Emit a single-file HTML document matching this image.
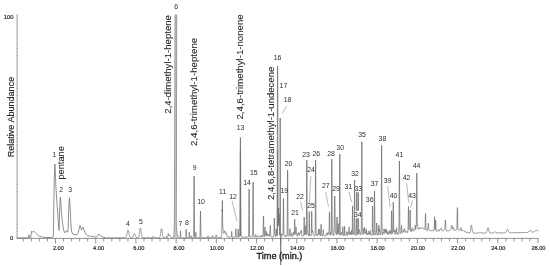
<!DOCTYPE html>
<html><head><meta charset="utf-8"><title>Chromatogram</title>
<style>
html,body{margin:0;padding:0;background:#fff;}
body{width:550px;height:266px;overflow:hidden;}
svg{display:block;}
text{font-family:"Liberation Sans",Arial,sans-serif;}
.n{font-size:6.90px;fill:#2c2c2c;text-anchor:middle;}
.c{font-size:9.68px;fill:#2a2a2a;stroke:#2a2a2a;stroke-width:0.1px;}
.t{font-size:6.2px;fill:#222;text-anchor:end;stroke:#222;stroke-width:0.18px;}
</style></head><body>
<svg width="550" height="266" viewBox="0 0 550 266">
<rect width="550" height="266" fill="#fff"/>
<g stroke="#777" stroke-width="0.8" fill="none">
<path d="M16.6 238.4 H538.5"/>
<path d="M17.1 14.7 V238.4" stroke="#b4b4b4" stroke-width="0.9"/>
<path d="M17.1 14.7 V238.4" stroke="#7a7a7a" stroke-width="0.9" stroke-dasharray="0.9 1.33"/>
<path d="M23.34 238.4 v3.0 M31.38 238.4 v3.0 M39.42 238.4 v3.0 M47.47 238.4 v3.0 M55.51 238.4 v5.0 M63.55 238.4 v3.0 M71.59 238.4 v3.0 M79.63 238.4 v3.0 M87.67 238.4 v3.0 M95.72 238.4 v5.0 M103.76 238.4 v3.0 M111.80 238.4 v3.0 M119.84 238.4 v3.0 M127.88 238.4 v3.0 M135.92 238.4 v5.0 M143.97 238.4 v3.0 M152.01 238.4 v3.0 M160.05 238.4 v3.0 M168.09 238.4 v3.0 M176.13 238.4 v5.0 M184.17 238.4 v3.0 M192.22 238.4 v3.0 M200.26 238.4 v3.0 M208.30 238.4 v3.0 M216.34 238.4 v5.0 M224.38 238.4 v3.0 M232.42 238.4 v3.0 M240.46 238.4 v3.0 M248.51 238.4 v3.0 M256.55 238.4 v5.0 M264.59 238.4 v3.0 M272.63 238.4 v3.0 M280.67 238.4 v3.0 M288.71 238.4 v3.0 M296.76 238.4 v5.0 M304.80 238.4 v3.0 M312.84 238.4 v3.0 M320.88 238.4 v3.0 M328.92 238.4 v3.0 M336.96 238.4 v5.0 M345.01 238.4 v3.0 M353.05 238.4 v3.0 M361.09 238.4 v3.0 M369.13 238.4 v3.0 M377.17 238.4 v5.0 M385.21 238.4 v3.0 M393.26 238.4 v3.0 M401.30 238.4 v3.0 M409.34 238.4 v3.0 M417.38 238.4 v5.0 M425.42 238.4 v3.0 M433.46 238.4 v3.0 M441.50 238.4 v3.0 M449.55 238.4 v3.0 M457.59 238.4 v5.0 M465.63 238.4 v3.0 M473.67 238.4 v3.0 M481.71 238.4 v3.0 M489.75 238.4 v3.0 M497.80 238.4 v5.0 M505.84 238.4 v3.0 M513.88 238.4 v3.0 M521.92 238.4 v3.0 M529.96 238.4 v3.0 M538.00 238.4 v5.0"/>
</g>
<g fill="none" stroke="#6c6c6c" stroke-width="0.75" stroke-linejoin="round">
<path d="M17.00 237.90 L28.30 237.90 L28.90 234.80 L29.50 237.30 L30.60 237.50 L31.20 234.00 L31.70 231.10 L32.20 231.60 L32.70 232.30 L33.50 231.60 L34.20 231.30 L35.20 232.30 L36.80 234.30 L38.00 235.40 L39.30 236.10 L41.00 236.80 L43.40 237.40 L52.50 237.60 L53.20 237.00 L53.50 228.00 L53.80 205.00 L54.30 178.00 L54.90 164.10 L55.30 172.00 L55.90 187.00 L56.90 203.00 L57.80 214.00 L58.50 224.00 L59.00 230.30 L59.30 224.00 L59.60 212.00 L60.00 202.00 L60.40 197.10 L60.80 202.00 L61.30 211.00 L61.90 217.00 L62.60 223.00 L63.40 229.00 L64.70 232.80 L65.80 232.00 L66.70 230.80 L67.70 232.30 L68.20 228.00 L68.60 214.00 L69.00 203.00 L69.45 197.80 L69.90 203.00 L70.50 214.00 L71.00 225.00 L71.60 231.50 L72.80 234.20 L75.00 234.60 L77.00 234.60 L78.30 232.50 L79.20 228.00 L80.00 225.40 L80.80 228.00 L81.60 230.20 L82.30 228.30 L83.00 227.00 L83.80 229.00 L85.00 232.50 L86.20 234.50 L87.50 235.60 L89.00 236.30 L90.00 235.50 L91.00 236.50 L92.20 236.60 L93.00 236.00 L94.00 236.90 L96.50 237.20 L98.00 235.60 L99.00 234.00 L100.00 235.20 L101.20 236.40 L103.00 237.20 L105.00 237.60 L105.00 237.86 L105.60 237.85 L106.20 237.85 L106.80 237.85 L107.40 237.85 L108.00 237.85 L108.60 237.85 L109.20 237.85 L109.80 237.85 L110.40 237.75 L110.85 237.60 L111.45 237.81 L112.05 237.85 L112.15 237.85 L112.75 237.85 L113.35 237.85 L113.95 237.85 L114.55 237.85 L115.15 237.85 L115.75 237.85 L116.35 237.85 L116.95 237.85 L117.55 237.85 L118.15 237.85 L118.75 237.85 L119.35 237.85 L119.95 237.85 L120.55 237.85 L121.15 237.84 L121.75 237.81 L122.35 237.61 L122.60 237.56 L123.20 237.73 L123.80 237.84 L124.15 237.84 L124.75 237.83 L125.35 237.74 L125.80 237.46 L126.00 237.19 L126.15 236.92 L126.30 236.56 L126.40 236.27 L126.50 235.93 L126.60 235.56 L126.70 235.14 L126.80 234.69 L126.90 234.20 L126.95 233.94 L127.00 233.68 L127.05 233.42 L127.10 233.15 L127.15 232.88 L127.20 232.60 L127.25 232.33 L127.30 232.07 L127.35 231.81 L127.40 231.56 L127.50 231.09 L127.60 230.69 L127.70 230.36 L127.85 230.07 L127.95 230.00 L128.20 230.27 L128.30 230.53 L128.40 230.86 L128.50 231.25 L128.60 231.70 L128.70 232.18 L128.80 232.68 L128.85 232.94 L128.90 233.20 L128.95 233.45 L129.00 233.71 L129.05 233.96 L129.15 234.46 L129.25 234.92 L129.35 235.36 L129.45 235.75 L129.55 236.10 L129.65 236.41 L129.75 236.68 L129.90 237.02 L130.05 237.27 L130.30 237.55 L130.90 237.80 L131.30 237.82 L131.95 237.73 L132.40 237.48 L132.65 237.20 L132.85 236.88 L133.00 236.57 L133.15 236.22 L133.25 235.97 L133.35 235.69 L133.45 235.41 L133.55 235.13 L133.65 234.84 L133.75 234.57 L133.85 234.32 L134.00 234.00 L134.20 233.70 L134.40 233.60 L134.75 233.91 L134.90 234.21 L135.05 234.57 L135.15 234.84 L135.25 235.12 L135.35 235.41 L135.45 235.69 L135.55 235.96 L135.65 236.22 L135.80 236.57 L135.95 236.88 L136.15 237.20 L136.40 237.48 L136.90 237.73 L137.00 237.74 L137.40 237.68 L137.85 237.74 L138.35 237.47 L138.55 237.16 L138.70 236.81 L138.80 236.50 L138.90 236.14 L139.00 235.71 L139.10 235.21 L139.15 234.93 L139.20 234.64 L139.25 234.34 L139.30 234.01 L139.35 233.68 L139.40 233.33 L139.45 232.98 L139.50 232.61 L139.55 232.24 L139.60 231.87 L139.65 231.50 L139.70 231.13 L139.75 230.77 L139.80 230.41 L139.85 230.07 L139.90 229.75 L139.95 229.44 L140.00 229.16 L140.05 228.90 L140.15 228.47 L140.25 228.17 L140.40 228.00 L140.60 228.30 L140.70 228.67 L140.80 229.16 L140.85 229.44 L140.90 229.74 L140.95 230.07 L141.00 230.41 L141.05 230.76 L141.10 231.13 L141.15 231.50 L141.20 231.87 L141.25 232.24 L141.30 232.61 L141.35 232.98 L141.40 233.33 L141.45 233.68 L141.50 234.01 L141.55 234.33 L141.60 234.64 L141.65 234.93 L141.70 235.21 L141.75 235.47 L141.85 235.93 L141.95 236.33 L142.05 236.66 L142.15 236.93 L142.30 237.25 L142.50 237.52 L143.00 237.74 L143.50 237.68 L144.10 237.81 L144.75 237.83 L145.40 237.83 L146.05 237.83 L146.65 237.83 L147.30 237.83 L147.95 237.58 L148.15 237.52 L148.70 237.67 L149.15 237.63 L149.80 237.75 L150.05 237.78 L150.65 237.70 L150.85 237.69 L151.45 237.78 L152.10 237.83 L152.15 237.83 L152.75 237.66 L152.90 237.40 L153.00 237.12 L153.10 236.78 L153.20 236.44 L153.30 236.19 L153.40 236.10 L153.60 236.44 L153.70 236.78 L153.80 237.12 L153.90 237.40 L154.05 237.66 L154.65 237.83 L154.80 237.83 L155.40 237.82 L156.00 237.74 L156.45 237.61 L157.05 237.79 L157.70 237.82 L157.80 237.82 L158.40 237.82 L159.05 237.80 L159.65 237.55 L159.85 237.26 L160.00 236.90 L160.10 236.59 L160.20 236.20 L160.30 235.72 L160.35 235.46 L160.40 235.17 L160.45 234.86 L160.50 234.53 L160.55 234.19 L160.60 233.83 L160.65 233.46 L160.70 233.08 L160.75 232.68 L160.80 232.29 L160.85 231.90 L160.90 231.50 L160.95 231.12 L161.00 230.75 L161.05 230.40 L161.10 230.07 L161.15 229.77 L161.20 229.50 L161.30 229.06 L161.40 228.79 L161.50 228.70 L161.70 229.06 L161.80 229.50 L161.85 229.77 L161.90 230.07 L161.95 230.40 L162.00 230.75 L162.05 231.12 L162.10 231.50 L162.15 231.89 L162.20 232.29 L162.25 232.68 L162.30 233.07 L162.35 233.46 L162.40 233.83 L162.45 234.19 L162.50 234.53 L162.55 234.86 L162.60 235.16 L162.65 235.45 L162.70 235.71 L162.80 236.18 L162.90 236.56 L163.00 236.86 L163.15 237.18 L163.40 237.46 L164.00 237.71 L164.65 237.82 L165.05 237.82 L165.70 237.73 L165.95 237.39 L166.10 237.02 L166.20 236.76 L166.40 236.50 L166.60 236.76 L166.70 237.02 L166.80 237.28 L166.95 237.57 L167.20 237.75 L167.50 237.49 L167.60 237.23 L167.70 236.83 L167.75 236.57 L167.80 236.28 L167.85 235.95 L167.90 235.60 L167.95 235.23 L168.00 234.86 L168.05 234.50 L168.10 234.17 L168.15 233.89 L168.25 233.50 L168.35 233.42 L168.50 233.84 L168.60 234.35 L168.65 234.63 L168.70 234.90 L168.75 235.16 L168.85 235.59 L168.95 235.86 L169.10 235.97 L169.35 235.66 L169.50 235.39 L169.75 235.15 L170.05 235.43 L170.20 235.71 L170.35 236.02 L170.50 236.34 L170.65 236.66 L170.80 236.95 L171.00 237.26 L171.25 237.53 L171.85 237.78 L172.00 237.79 L172.45 237.76 L173.05 237.81 L173.40 237.82 L173.55 237.82"/>
<path d="M173.55 237.82 L174.0 234 L174.4 222 L174.65 150 L175.0 16.5 L175.5 14.8 L176.3 14.8 L176.7 16.5 L176.5 150 L176.3 222 L176.6 229 L177.2 233.5 L178.20 237.77" stroke="#828282" fill="#c6c6c6"/>
<path d="M240.4 150 V236" stroke="#505050" stroke-width="0.8"/>
<path d="M277.6 150 V235.5" stroke="#5a5a5a" stroke-width="0.7"/>
<path d="M178.20 237.77 L178.75 237.54 L179.40 237.79 L179.70 237.81 L180.05 237.50 L180.10 237.22 L180.15 236.75 L180.20 236.06 L180.25 235.14 L180.30 234.03 L180.35 232.86 L180.40 231.80 L180.45 231.07 L180.50 230.80 L180.55 231.07 L180.60 231.80 L180.65 232.86 L180.70 234.03 L180.75 235.14 L180.80 236.06 L180.85 236.75 L180.90 237.22 L180.95 237.50 L181.10 237.78 L181.40 237.81 L182.05 237.81 L182.65 237.81 L183.30 237.81 L183.95 237.81 L184.60 237.81 L185.25 237.81 L185.75 237.43 L185.80 237.08 L185.85 236.51 L185.90 235.66 L185.95 234.53 L186.00 233.16 L186.05 231.73 L186.10 230.43 L186.15 229.53 L186.20 229.20 L186.25 229.53 L186.30 230.43 L186.35 231.73 L186.40 233.16 L186.45 234.53 L186.50 235.66 L186.55 236.51 L186.60 237.08 L186.65 237.43 L186.75 237.73 L187.10 237.81 L187.70 237.81 L188.35 237.81 L188.90 237.34 L188.95 236.97 L189.00 236.43 L189.05 235.71 L189.10 234.84 L189.15 233.92 L189.20 233.09 L189.25 232.51 L189.30 232.30 L189.40 233.09 L189.45 233.92 L189.50 234.84 L189.55 235.71 L189.60 236.43 L189.65 236.97 L189.70 237.34 L189.80 237.69 L190.20 237.81 L190.75 237.50 L190.85 237.04 L190.90 236.72 L190.95 236.39 L191.00 236.09 L191.10 235.80 L191.20 236.09 L191.25 236.39 L191.30 236.72 L191.35 237.04 L191.40 237.31 L191.50 237.64 L191.95 237.80 L192.60 237.80 L193.25 237.78 L193.45 237.49 L193.50 237.14 L193.55 236.46 L193.60 235.21 L193.65 233.09 L193.70 229.73 L193.75 224.80 L193.80 218.15 L193.85 209.92 L193.90 200.67 L193.95 191.40 L194.00 183.39 L194.05 177.94 L194.10 176.00 L194.15 177.94 L194.20 183.40 L194.25 191.41 L194.30 200.68 L194.35 209.94 L194.40 218.17 L194.45 224.82 L194.50 229.75 L194.55 233.11 L194.60 235.23 L194.65 236.48 L194.70 237.16 L194.75 237.51 L194.90 237.78 L195.05 237.80 L195.40 237.34 L195.45 236.97 L195.50 236.43 L195.55 235.71 L195.60 234.83 L195.65 233.91 L195.70 233.09 L195.75 232.51 L195.80 232.30 L195.90 233.09 L195.95 233.91 L196.00 234.83 L196.05 235.70 L196.10 236.43 L196.15 236.97 L196.20 237.34 L196.30 237.69 L196.70 237.80 L197.30 237.80 L197.95 237.80 L198.60 237.73 L199.00 237.64 L199.65 237.79 L199.90 237.53 L199.95 237.23 L200.00 236.70 L200.05 235.77 L200.10 234.32 L200.15 232.18 L200.20 229.29 L200.25 225.72 L200.30 221.71 L200.35 217.69 L200.40 214.21 L200.45 211.84 L200.50 211.00 L200.55 211.84 L200.60 214.20 L200.65 217.68 L200.70 221.70 L200.75 225.71 L200.80 229.28 L200.85 232.16 L200.90 234.30 L200.95 235.75 L201.00 236.67 L201.05 237.21 L201.10 237.50 L201.30 237.76 L201.40 237.76 L202.05 237.75 L202.65 237.73 L203.30 237.68 L203.85 237.62 L204.50 237.67 L204.75 237.67 L205.40 237.66 L206.05 237.64 L206.65 237.62 L207.30 237.60 L207.65 237.33 L207.75 236.91 L207.80 236.63 L207.85 236.33 L207.90 236.06 L208.00 235.80 L208.10 236.05 L208.15 236.32 L208.20 236.62 L208.25 236.90 L208.35 237.31 L208.60 237.56 L208.70 237.57 L209.30 237.55 L209.95 237.53 L210.60 237.48 L211.15 237.42 L211.80 237.47 L211.90 237.47 L212.25 237.18 L212.35 236.72 L212.40 236.41 L212.45 236.08 L212.50 235.78 L212.60 235.50 L212.70 235.78 L212.75 236.07 L212.80 236.40 L212.85 236.71 L212.90 236.97 L213.00 237.29 L213.30 237.44 L213.95 237.43 L214.60 237.41 L215.20 237.40 L215.85 237.00 L215.90 236.75 L215.95 236.40 L216.00 235.99 L216.05 235.56 L216.10 235.17 L216.15 234.90 L216.20 234.80 L216.30 235.17 L216.35 235.56 L216.40 235.99 L216.45 236.40 L216.50 236.74 L216.55 236.99 L216.65 237.27 L216.95 237.38 L217.55 237.37 L218.20 237.37 L218.85 237.36 L219.45 237.36 L220.10 237.35 L220.75 237.34 L221.40 237.28 L221.55 236.85 L221.60 236.45 L221.65 235.80 L221.70 234.79 L221.75 233.32 L221.80 231.29 L221.85 228.66 L221.90 225.48 L221.95 221.90 L222.00 218.17 L222.05 214.65 L222.10 211.75 L222.15 209.84 L222.20 209.17 L222.25 209.84 L222.30 211.75 L222.35 200.65 L222.40 202.13 L222.45 206.83 L222.50 211.32 L222.55 215.35 L222.60 218.77 L222.65 221.54 L222.70 223.71 L222.75 225.36 L222.80 226.62 L222.85 227.59 L222.90 228.35 L222.95 228.97 L223.00 229.50 L223.05 229.96 L223.10 230.38 L223.15 230.76 L223.20 231.12 L223.25 231.44 L223.30 231.74 L223.35 232.02 L223.40 232.27 L223.50 232.69 L223.60 233.02 L223.75 233.29 L223.80 233.31 L224.05 232.97 L224.15 232.64 L224.25 232.23 L224.35 231.79 L224.45 231.37 L224.55 231.04 L224.70 230.78 L224.75 230.78 L224.95 231.17 L225.05 231.58 L225.15 232.07 L225.20 232.32 L225.30 232.81 L225.40 233.22 L225.50 233.52 L225.65 233.69 L225.90 233.34 L226.05 233.00 L226.25 232.75 L226.45 233.02 L226.55 233.34 L226.65 233.77 L226.75 234.25 L226.80 234.51 L226.85 234.76 L226.95 235.24 L227.05 235.67 L227.15 236.04 L227.25 236.34 L227.40 236.66 L227.65 236.93 L227.95 237.00 L228.60 236.88 L229.25 237.06 L229.65 237.13 L230.10 237.10 L230.75 237.18 L230.95 237.20 L231.30 236.72 L231.35 236.34 L231.40 235.78 L231.45 235.03 L231.50 234.13 L231.55 233.17 L231.60 232.32 L231.65 231.72 L231.70 231.50 L231.80 232.32 L231.85 233.17 L231.90 234.13 L231.95 235.03 L232.00 235.78 L232.05 236.34 L232.10 236.72 L232.20 237.09 L232.60 237.21 L233.25 237.20 L233.85 237.20 L234.50 237.20 L235.15 237.18 L235.35 236.81 L235.40 236.47 L235.45 235.91 L235.50 235.08 L235.55 233.98 L235.60 232.66 L235.65 231.26 L235.70 230.00 L235.75 229.12 L235.80 228.80 L235.85 229.11 L235.90 229.98 L235.95 231.22 L236.00 232.61 L236.05 233.93 L236.10 235.03 L236.15 235.85 L236.20 236.41 L236.25 236.76 L236.35 237.06 L236.90 237.18 L237.55 237.16 L237.75 236.81 L237.80 236.48 L237.85 235.94 L237.90 235.13 L237.95 234.06 L238.00 232.76 L238.05 231.40 L238.10 230.17 L238.15 229.31 L238.20 229.00 L238.25 229.31 L238.30 230.17 L238.35 231.39 L238.40 232.76 L238.45 234.05 L238.50 235.13 L238.55 235.93 L238.60 236.47 L238.65 236.80 L238.75 237.08 L239.00 237.16 L239.50 236.77 L239.55 236.45 L239.60 235.92 L239.65 235.05 L239.70 233.69 L239.75 231.66 L239.80 228.72 L239.85 224.64 L239.90 219.21 L239.95 212.30 L240.00 203.89 L240.05 194.14 L240.10 183.40 L240.15 172.24 L240.20 161.41 L240.25 151.75 L240.30 144.11 L240.35 139.19 L240.40 137.50 L240.45 139.19 L240.50 144.10 L240.55 151.75 L240.60 161.41 L240.65 172.24 L240.70 183.39 L240.75 194.13 L240.80 203.89 L240.85 212.29 L240.90 219.20 L240.95 224.63 L241.00 228.70 L241.05 231.64 L241.10 233.68 L241.15 235.03 L241.20 235.90 L241.25 236.44 L241.30 236.75 L241.40 237.03 L241.75 237.13 L242.35 237.13 L243.00 237.12 L243.65 237.11 L244.25 237.11 L244.90 237.10 L245.55 237.09 L246.20 237.09 L246.85 237.08 L247.45 237.08 L248.10 237.07 L248.50 236.58 L248.55 236.05 L248.60 235.08 L248.65 233.43 L248.70 230.82 L248.75 226.99 L248.80 221.81 L248.85 215.40 L248.90 208.21 L248.95 200.99 L249.00 194.76 L249.05 190.51 L249.10 189.00 L249.15 190.51 L249.20 194.75 L249.25 200.99 L249.30 208.20 L249.35 215.40 L249.40 221.81 L249.45 226.98 L249.50 230.81 L249.55 233.42 L249.60 235.07 L249.65 236.04 L249.70 236.57 L249.75 236.83 L250.05 237.05 L250.65 237.04 L251.30 237.04 L251.95 237.02 L252.45 236.64 L252.50 236.32 L252.55 235.70 L252.60 234.58 L252.65 232.69 L252.70 229.69 L252.75 225.32 L252.80 219.41 L252.85 212.09 L252.90 203.88 L252.95 195.65 L253.00 188.54 L253.05 183.71 L253.10 182.00 L253.15 183.74 L253.20 188.61 L253.25 195.74 L253.30 204.00 L253.35 212.23 L253.40 219.56 L253.45 225.48 L253.50 229.86 L253.55 232.85 L253.60 234.74 L253.65 235.85 L253.70 236.45 L253.75 236.76 L254.05 237.01 L254.65 237.00 L255.30 236.94 L255.45 236.59 L255.50 236.32 L255.55 235.97 L255.60 235.54 L255.65 235.09 L255.70 234.69 L255.75 234.40 L255.80 234.30 L255.90 234.68 L255.95 235.09 L256.00 235.53 L256.05 235.96 L256.10 236.31 L256.15 236.57 L256.25 236.86 L256.55 236.97 L257.15 236.96 L257.60 236.71 L257.75 236.34 L257.85 236.05 L258.00 235.76 L258.05 235.73 L258.25 235.83 L258.45 235.57 L258.55 235.45 L258.70 235.76 L258.80 236.19 L258.90 236.56 L259.05 236.85 L259.35 236.92 L259.95 236.91 L260.55 236.87 L260.75 236.49 L260.85 236.14 L260.95 235.98 L261.10 236.29 L261.25 236.50 L261.40 236.08 L261.45 235.83 L261.50 235.57 L261.60 235.19 L261.65 235.15 L261.75 235.47 L261.80 235.75 L261.85 236.04 L261.90 236.31 L262.00 236.66 L262.10 236.77 L262.30 236.45 L262.40 236.12 L262.55 235.90 L262.70 236.15 L262.80 236.26 L262.95 235.80 L263.00 235.35 L263.05 234.64 L263.10 233.55 L263.15 231.98 L263.20 229.85 L263.25 227.20 L263.30 224.18 L263.35 221.14 L263.40 218.48 L263.45 216.66 L263.50 216.00 L263.55 216.64 L263.60 218.46 L263.65 221.16 L263.70 224.28 L263.75 227.41 L263.80 230.19 L263.85 232.45 L263.90 234.12 L263.95 235.26 L264.00 235.98 L264.05 236.40 L264.15 236.74 L264.25 236.81 L264.50 236.46 L264.55 236.17 L264.60 235.70 L264.65 234.99 L264.70 234.00 L264.75 232.71 L264.80 231.20 L264.85 229.64 L264.90 228.25 L264.95 227.31 L265.00 227.00 L265.05 227.40 L265.10 228.40 L265.15 229.79 L265.20 231.28 L265.25 232.60 L265.30 233.59 L265.35 234.20 L265.40 234.48 L265.65 234.95 L265.70 235.24 L265.75 235.51 L265.85 235.76 L265.95 235.38 L266.00 234.94 L266.05 234.38 L266.10 233.74 L266.15 233.08 L266.20 232.45 L266.25 231.91 L266.30 231.49 L266.40 231.20 L266.50 231.72 L266.55 232.25 L266.60 232.90 L266.65 233.60 L266.70 234.29 L266.75 234.91 L266.80 235.41 L266.85 235.79 L266.95 236.11 L267.10 235.56 L267.15 235.14 L267.20 234.65 L267.25 234.17 L267.30 233.79 L267.35 233.57 L267.50 234.13 L267.55 234.52 L267.60 234.86 L267.70 235.18 L267.90 234.93 L268.00 234.84 L268.20 235.22 L268.30 235.62 L268.40 235.88 L268.45 235.89 L268.55 235.60 L268.60 235.35 L268.65 235.07 L268.75 234.66 L268.80 234.62 L268.90 234.92 L268.95 235.21 L269.00 235.53 L269.05 235.84 L269.10 236.10 L269.20 236.38 L269.35 236.04 L269.40 235.68 L269.45 235.18 L269.50 234.56 L269.55 233.86 L269.60 233.15 L269.65 232.53 L269.70 232.09 L269.75 231.89 L269.90 232.06 L270.00 231.38 L270.05 230.46 L270.10 229.24 L270.15 227.87 L270.20 226.63 L270.25 225.78 L270.30 225.50 L270.35 225.89 L270.40 226.90 L270.45 228.35 L270.50 230.03 L270.55 231.70 L270.60 233.19 L270.65 234.38 L270.70 235.27 L270.75 235.88 L270.80 236.26 L270.90 236.60 L271.15 236.71 L271.75 236.70 L272.35 236.69 L273.00 236.68 L273.60 236.64 L273.75 236.33 L273.80 236.00 L273.85 235.45 L273.90 234.57 L273.95 233.27 L274.00 231.49 L274.05 229.26 L274.10 226.68 L274.15 223.97 L274.20 221.45 L274.25 219.43 L274.30 218.22 L274.35 218.00 L274.40 218.80 L274.45 220.48 L274.50 222.79 L274.55 225.37 L274.60 227.87 L274.65 230.03 L274.70 231.67 L274.75 232.74 L274.80 233.30 L274.90 233.50 L274.95 233.48 L275.05 233.77 L275.10 234.13 L275.15 234.58 L275.20 235.05 L275.25 235.48 L275.30 235.84 L275.35 236.12 L275.45 236.44 L275.60 236.57 L275.75 236.25 L275.80 235.92 L275.85 235.40 L275.90 234.63 L275.95 233.62 L276.00 232.42 L276.05 231.16 L276.10 230.04 L276.15 229.26 L276.20 229.00 L276.25 229.30 L276.30 230.10 L276.35 231.24 L276.40 232.49 L276.45 233.66 L276.50 234.62 L276.55 235.30 L276.60 235.71 L276.65 235.87 L276.75 235.52 L276.80 234.96 L276.85 234.01 L276.90 232.49 L276.95 230.10 L277.00 226.49 L277.05 221.21 L277.10 213.77 L277.15 203.72 L277.20 190.73 L277.25 174.75 L277.30 156.14 L277.35 135.78 L277.40 115.07 L277.45 95.87 L277.50 80.18 L277.55 69.86 L277.60 66.20 L277.65 69.70 L277.70 79.95 L277.75 95.69 L277.80 115.11 L277.85 136.17 L277.90 156.95 L277.95 175.92 L278.00 192.09 L278.05 204.98 L278.10 214.55 L278.15 221.03 L278.20 224.74 L278.25 226.06 L278.30 225.32 L278.35 222.91 L278.40 219.33 L278.45 215.26 L278.50 211.51 L278.55 208.89 L278.60 208.00 L278.65 209.02 L278.70 211.65 L278.75 215.20 L278.80 218.79 L278.85 221.58 L278.90 223.01 L279.00 221.36 L279.05 219.00 L279.10 216.52 L279.15 214.67 L279.20 214.00 L279.25 214.77 L279.30 216.86 L279.35 219.86 L279.40 223.22 L279.45 226.46 L279.50 229.25 L279.55 231.44 L279.60 233.05 L279.65 234.18 L279.70 234.94 L279.75 235.38 L279.85 234.35 L279.90 230.94 L279.95 222.64 L280.00 206.61 L280.05 181.87 L280.10 152.39 L280.15 127.58 L280.20 118.03 L280.25 128.54 L280.30 154.66 L280.35 186.11 L280.40 213.73 L280.45 233.62 L280.50 246.58 L280.55 254.99 L280.60 260.58 L280.65 263.93 L280.70 264.98 L280.75 263.65 L280.80 260.24 L280.85 255.44 L280.90 250.10 L280.95 245.04 L281.00 240.81 L281.05 237.66 L281.10 235.55 L281.15 234.31 L281.20 233.71 L281.25 233.53 L281.35 233.85 L281.40 234.17 L281.45 234.52 L281.50 234.85 L281.55 235.13 L281.65 235.47 L281.75 235.56 L281.80 235.56 L282.10 235.84 L282.15 235.89 L282.35 235.47 L282.40 235.21 L282.45 234.93 L282.50 234.66 L282.60 234.35 L282.65 234.34 L282.80 234.54 L282.90 234.26 L282.95 233.81 L283.00 233.05 L283.05 231.80 L283.10 229.86 L283.15 227.03 L283.20 223.20 L283.25 218.41 L283.30 212.99 L283.35 207.53 L283.40 202.80 L283.45 199.59 L283.50 198.50 L283.55 199.74 L283.60 203.11 L283.65 208.02 L283.70 213.67 L283.75 219.27 L283.80 224.22 L283.85 228.16 L283.90 231.01 L283.95 232.88 L284.00 233.99 L284.05 234.59 L284.10 234.89 L284.20 235.17 L284.30 235.48 L284.40 235.86 L284.50 236.18 L284.70 236.40 L284.90 236.12 L285.05 235.78 L285.10 235.74 L285.30 236.05 L285.45 236.22 L285.60 235.97 L285.70 235.63 L285.80 235.29 L285.90 235.11 L286.10 235.48 L286.20 235.83 L286.30 236.13 L286.50 236.39 L286.70 236.43 L286.95 236.13 L287.00 235.76 L287.05 235.02 L287.10 233.69 L287.15 231.40 L287.20 227.79 L287.25 222.50 L287.30 215.36 L287.35 206.51 L287.40 196.57 L287.45 186.60 L287.50 177.98 L287.55 172.10 L287.60 170.00 L287.65 172.06 L287.70 177.89 L287.75 186.47 L287.80 196.42 L287.85 206.34 L287.90 215.17 L287.95 222.28 L288.00 227.53 L288.05 231.06 L288.10 233.25 L288.15 234.47 L288.20 235.08 L288.25 235.34 L288.45 235.67 L288.55 235.92 L288.70 236.25 L288.85 236.35 L289.20 236.02 L289.30 235.73 L289.40 235.29 L289.45 235.00 L289.50 234.65 L289.55 234.21 L289.60 233.67 L289.65 233.00 L289.70 232.22 L289.75 231.34 L289.80 230.45 L289.85 229.63 L289.90 229.01 L289.95 228.70 L290.05 229.24 L290.10 230.03 L290.15 231.04 L290.20 232.10 L290.25 233.08 L290.30 233.87 L290.35 234.39 L290.40 234.66 L290.60 234.93 L290.70 235.44 L290.75 235.73 L290.85 236.14 L291.00 236.32 L291.25 235.91 L291.30 235.65 L291.35 235.31 L291.40 234.90 L291.45 234.43 L291.50 233.95 L291.55 233.51 L291.60 233.16 L291.70 232.93 L291.80 233.39 L291.85 233.81 L291.90 234.29 L291.95 234.77 L292.00 235.21 L292.05 235.57 L292.10 235.85 L292.20 236.17 L292.50 236.33 L293.10 236.02 L293.20 235.51 L293.25 235.09 L293.30 234.57 L293.35 233.97 L293.40 233.35 L293.45 232.79 L293.50 232.37 L293.55 232.15 L293.65 232.43 L293.70 232.84 L293.75 233.32 L293.80 233.79 L293.85 234.18 L293.90 234.44 L294.00 234.61 L294.15 234.25 L294.20 233.95 L294.25 233.46 L294.30 232.69 L294.35 231.53 L294.40 229.92 L294.45 227.87 L294.50 225.54 L294.55 223.18 L294.60 221.14 L294.65 219.75 L294.70 219.30 L294.75 219.87 L294.80 221.38 L294.85 223.56 L294.90 226.06 L294.95 228.52 L295.00 230.67 L295.05 232.34 L295.10 233.51 L295.15 234.19 L295.20 234.48 L295.35 233.91 L295.40 233.46 L295.45 232.93 L295.50 232.36 L295.55 231.78 L295.60 231.22 L295.65 230.68 L295.70 230.18 L295.75 229.70 L295.80 229.23 L295.85 228.75 L295.90 228.25 L295.95 227.77 L296.00 227.39 L296.05 227.20 L296.15 227.64 L296.20 228.30 L296.25 229.18 L296.30 230.17 L296.35 231.16 L296.40 232.06 L296.45 232.84 L296.50 233.47 L296.55 233.98 L296.60 234.40 L296.65 234.76 L296.70 235.09 L296.75 235.39 L296.80 235.64 L296.90 236.00 L297.20 236.24 L297.60 235.87 L297.70 235.43 L297.75 235.11 L297.80 234.75 L297.85 234.36 L297.90 233.95 L297.95 233.55 L298.00 233.20 L298.05 232.92 L298.15 232.67 L298.25 232.96 L298.30 233.27 L298.35 233.63 L298.40 233.97 L298.45 234.23 L298.50 234.35 L298.65 233.80 L298.70 233.46 L298.75 233.15 L298.85 232.95 L298.95 233.45 L299.00 233.89 L299.05 234.35 L299.10 234.76 L299.15 235.07 L299.25 235.32 L299.45 234.98 L299.60 234.61 L299.70 234.13 L299.75 233.82 L299.80 233.49 L299.85 233.19 L299.95 232.79 L300.00 232.75 L300.15 233.07 L300.25 233.23 L300.45 232.80 L300.55 232.34 L300.65 231.92 L300.75 231.80 L300.90 232.10 L300.95 232.16 L301.10 231.59 L301.15 231.15 L301.20 230.67 L301.25 230.26 L301.30 230.03 L301.40 230.36 L301.45 230.94 L301.50 231.73 L301.55 232.60 L301.60 233.47 L301.65 234.24 L301.70 234.87 L301.75 235.34 L301.80 235.67 L301.90 236.02 L302.30 236.17 L302.90 236.17 L303.40 235.87 L303.50 235.55 L303.60 235.10 L303.65 234.80 L303.70 234.38 L303.75 233.75 L303.80 232.78 L303.85 231.36 L303.90 229.40 L303.95 226.94 L304.00 224.16 L304.05 221.39 L304.10 219.05 L304.15 217.56 L304.20 217.20 L304.25 218.04 L304.30 219.93 L304.35 222.51 L304.40 225.38 L304.45 228.14 L304.50 230.53 L304.55 232.39 L304.60 233.71 L304.65 234.53 L304.70 234.97 L304.75 235.13 L304.95 234.86 L305.10 234.48 L305.15 234.11 L305.20 233.48 L305.25 232.57 L305.30 231.37 L305.35 230.00 L305.40 228.58 L305.45 227.31 L305.50 226.35 L305.55 225.80 L305.60 225.69 L305.65 226.00 L305.70 226.63 L305.75 227.51 L305.80 228.54 L305.85 229.66 L305.90 230.79 L305.95 231.88 L306.00 232.87 L306.05 233.71 L306.10 234.33 L306.15 234.69 L306.25 234.11 L306.30 232.77 L306.35 230.29 L306.40 226.25 L306.45 220.28 L306.50 212.19 L306.55 202.15 L306.60 190.86 L306.65 179.50 L306.70 169.60 L306.75 162.72 L306.80 160.00 L306.85 161.88 L306.90 167.94 L306.95 177.06 L307.00 187.69 L307.05 198.33 L307.10 207.80 L307.15 215.42 L307.20 221.06 L307.25 224.97 L307.30 227.59 L307.35 229.37 L307.40 230.67 L307.45 231.69 L307.50 232.52 L307.55 233.16 L307.60 233.60 L307.65 233.85 L307.75 233.95 L307.85 233.91 L308.10 234.25 L308.20 234.71 L308.25 235.02 L308.30 235.32 L308.35 235.59 L308.45 235.94 L308.60 236.07 L308.80 235.56 L308.85 234.97 L308.90 233.91 L308.95 232.17 L309.00 229.61 L309.05 226.22 L309.10 222.22 L309.15 218.11 L309.20 214.57 L309.25 212.27 L309.30 211.70 L309.35 212.96 L309.40 215.75 L309.45 219.51 L309.50 223.55 L309.55 227.29 L309.60 230.36 L309.65 232.63 L309.70 234.15 L309.75 235.08 L309.80 235.60 L309.85 235.86 L309.95 236.01 L310.20 235.74 L310.35 235.46 L310.45 235.37 L310.70 235.69 L310.90 235.90 L311.10 235.62 L311.20 235.00 L311.25 234.37 L311.30 233.33 L311.35 231.71 L311.40 229.38 L311.45 226.28 L311.50 222.55 L311.55 218.59 L311.60 214.97 L311.65 212.33 L311.70 211.20 L311.75 211.80 L311.80 213.97 L311.85 217.25 L311.90 221.01 L311.95 224.65 L312.00 227.72 L312.05 229.99 L312.10 231.43 L312.15 232.14 L312.20 232.27 L312.25 232.02 L312.30 231.56 L312.35 231.05 L312.40 230.64 L312.50 230.37 L312.60 230.89 L312.65 231.32 L312.70 231.75 L312.75 232.15 L312.80 232.48 L312.85 232.75 L312.95 233.22 L313.00 233.48 L313.05 233.75 L313.10 234.02 L313.20 234.47 L313.40 234.70 L313.45 234.69 L313.75 235.02 L313.85 235.28 L313.95 235.56 L314.10 235.87 L314.50 236.02 L314.95 235.67 L315.00 235.25 L315.05 234.42 L315.10 232.89 L315.15 230.29 L315.20 226.17 L315.25 220.13 L315.30 211.96 L315.35 201.85 L315.40 190.49 L315.45 179.08 L315.50 169.22 L315.55 162.46 L315.60 160.00 L315.65 162.26 L315.70 168.80 L315.75 178.44 L315.80 189.59 L315.85 200.68 L315.90 210.51 L315.95 218.42 L316.00 224.24 L316.05 228.20 L316.10 230.72 L316.15 232.25 L316.20 233.18 L316.25 233.77 L316.30 234.20 L316.35 234.54 L316.40 234.84 L316.45 235.11 L316.55 235.52 L316.70 235.78 L316.90 235.47 L317.00 235.21 L317.10 235.14 L317.25 235.40 L317.35 235.52 L317.55 235.13 L317.65 234.78 L317.75 234.51 L317.85 234.45 L318.00 234.63 L318.15 234.03 L318.20 233.36 L318.25 232.46 L318.30 231.41 L318.35 230.39 L318.40 229.60 L318.45 229.20 L318.55 229.82 L318.60 230.69 L318.65 231.75 L318.70 232.80 L318.75 233.71 L318.80 234.41 L318.85 234.85 L318.90 235.05 L319.05 234.51 L319.10 234.05 L319.15 233.49 L319.20 232.86 L319.25 232.20 L319.30 231.54 L319.35 230.91 L319.40 230.36 L319.45 229.90 L319.50 229.55 L319.60 229.23 L319.75 229.71 L319.80 230.14 L319.85 230.69 L319.90 231.32 L319.95 232.02 L320.00 232.72 L320.05 233.39 L320.10 233.99 L320.15 234.50 L320.20 234.92 L320.25 235.24 L320.35 235.63 L320.45 235.78 L320.60 235.44 L320.65 235.05 L320.70 234.42 L320.75 233.49 L320.80 232.23 L320.85 230.66 L320.90 228.91 L320.95 227.14 L321.00 225.62 L321.05 224.58 L321.10 224.20 L321.15 224.54 L321.20 225.53 L321.25 226.97 L321.30 228.60 L321.35 230.17 L321.40 231.52 L321.45 232.56 L321.50 233.32 L321.55 233.86 L321.60 234.29 L321.65 234.65 L321.70 234.98 L321.75 235.27 L321.85 235.68 L322.15 235.93 L322.65 235.62 L322.75 235.31 L322.85 234.79 L322.90 234.41 L322.95 233.92 L323.00 233.31 L323.05 232.60 L323.10 231.82 L323.15 231.03 L323.20 230.35 L323.25 229.87 L323.30 229.65 L323.40 230.07 L323.45 230.61 L323.50 231.29 L323.55 232.03 L323.60 232.79 L323.65 233.51 L323.70 234.15 L323.75 234.68 L323.80 235.10 L323.85 235.40 L323.95 235.72 L324.40 235.91 L325.00 235.90 L325.60 235.89 L325.95 235.56 L326.05 235.20 L326.15 234.67 L326.20 234.38 L326.25 234.10 L326.35 233.65 L326.50 233.33 L326.65 233.06 L326.70 233.03 L326.80 233.33 L326.85 233.69 L326.90 234.13 L326.95 234.57 L327.00 234.95 L327.05 235.20 L327.10 235.31 L327.25 235.03 L327.40 234.70 L327.50 234.39 L327.55 234.07 L327.60 233.64 L327.65 233.19 L327.70 232.83 L327.80 232.63 L327.90 232.89 L328.00 233.00 L328.15 232.77 L328.30 233.08 L328.35 233.35 L328.40 233.66 L328.45 233.95 L328.55 234.31 L328.60 234.35 L328.75 233.93 L328.80 233.65 L328.85 233.30 L328.90 232.88 L328.95 232.35 L329.00 231.64 L329.05 230.66 L329.10 229.30 L329.15 227.46 L329.20 225.08 L329.25 222.25 L329.30 219.14 L329.35 216.12 L329.40 213.60 L329.45 212.03 L329.50 211.70 L329.55 212.72 L329.60 214.95 L329.65 218.04 L329.70 221.54 L329.75 224.99 L329.80 228.07 L329.85 230.56 L329.90 232.43 L329.95 233.72 L330.00 234.55 L330.05 235.04 L330.10 235.29 L330.15 235.39 L330.35 234.98 L330.45 234.47 L330.50 234.15 L330.55 233.81 L330.60 233.45 L330.65 233.11 L330.70 232.83 L330.80 232.59 L330.90 232.89 L330.95 233.21 L331.00 233.57 L331.05 233.92 L331.10 234.20 L331.15 234.32 L331.25 233.56 L331.30 232.20 L331.35 229.73 L331.40 225.69 L331.45 219.71 L331.50 211.57 L331.55 201.46 L331.60 190.07 L331.65 178.63 L331.70 168.71 L331.75 161.88 L331.80 159.30 L331.85 161.39 L331.90 167.71 L331.95 177.06 L332.00 187.91 L332.05 198.68 L332.10 208.18 L332.15 215.68 L332.20 220.96 L332.25 224.21 L332.30 225.87 L332.35 226.50 L332.45 226.79 L332.50 227.16 L332.55 227.87 L332.60 228.85 L332.65 229.99 L332.70 231.14 L332.75 232.19 L332.80 233.09 L332.85 233.83 L332.90 234.41 L332.95 234.85 L333.00 235.16 L333.10 235.50 L333.15 235.53 L333.30 235.11 L333.35 234.86 L333.45 234.47 L333.50 234.42 L333.60 234.68 L333.70 235.08 L333.75 235.19 L333.90 234.69 L333.95 234.15 L334.00 233.35 L334.05 232.25 L334.10 230.78 L334.15 228.89 L334.20 226.55 L334.25 223.75 L334.30 220.52 L334.35 216.93 L334.40 213.11 L334.45 209.23 L334.50 205.47 L334.55 202.07 L334.60 199.24 L334.65 197.18 L334.70 196.06 L334.75 196.00 L334.80 197.05 L334.85 199.18 L334.90 202.25 L334.95 206.01 L335.00 210.14 L335.05 214.32 L335.10 218.21 L335.15 221.60 L335.20 224.36 L335.25 226.48 L335.30 228.03 L335.35 229.11 L335.40 229.87 L335.45 230.43 L335.50 230.88 L335.55 231.31 L335.60 231.73 L335.65 232.17 L335.70 232.57 L335.75 232.92 L335.85 233.28 L335.90 233.28 L336.05 232.98 L336.10 232.97 L336.20 233.30 L336.25 233.62 L336.30 233.99 L336.35 234.33 L336.40 234.59 L336.45 234.71 L336.55 234.24 L336.60 233.48 L336.65 232.24 L336.70 230.44 L336.75 228.09 L336.80 225.31 L336.85 222.40 L336.90 219.76 L336.95 217.84 L337.00 217.00 L337.05 217.39 L337.10 218.90 L337.15 221.21 L337.20 223.91 L337.25 226.58 L337.30 228.94 L337.35 230.82 L337.40 232.20 L337.45 233.11 L337.50 233.64 L337.55 233.86 L337.65 233.58 L337.70 233.17 L337.75 232.61 L337.80 231.93 L337.85 231.14 L337.90 230.24 L337.95 229.23 L338.00 228.11 L338.05 226.92 L338.10 225.73 L338.15 224.66 L338.20 223.90 L338.25 223.60 L338.30 223.89 L338.35 224.77 L338.40 226.15 L338.45 227.83 L338.50 229.58 L338.55 231.20 L338.60 232.54 L338.65 233.55 L338.70 234.24 L338.75 234.65 L338.85 234.94 L339.15 234.67 L339.20 234.28 L339.25 233.42 L339.30 231.78 L339.35 228.93 L339.40 224.42 L339.45 217.84 L339.50 209.00 L339.55 198.11 L339.60 185.95 L339.65 173.82 L339.70 163.40 L339.75 156.38 L339.80 154.00 L339.85 156.70 L339.90 164.00 L339.95 174.63 L340.00 186.87 L340.05 199.07 L340.10 209.90 L340.15 218.65 L340.20 225.13 L340.25 229.54 L340.30 232.32 L340.35 233.93 L340.40 234.77 L340.45 235.15 L340.50 235.26 L340.65 234.93 L340.75 234.56 L340.85 234.18 L340.95 233.73 L341.00 233.47 L341.05 233.17 L341.10 232.87 L341.15 232.59 L341.25 232.20 L341.30 232.14 L341.50 232.51 L341.65 232.85 L341.80 233.18 L341.90 233.75 L341.95 234.13 L342.00 234.51 L342.05 234.83 L342.15 235.15 L342.30 234.78 L342.35 234.43 L342.40 233.93 L342.45 233.25 L342.50 232.37 L342.55 231.28 L342.60 230.05 L342.65 228.80 L342.70 227.70 L342.75 226.95 L342.80 226.70 L342.85 227.02 L342.90 227.87 L342.95 229.08 L343.00 230.47 L343.05 231.84 L343.10 233.03 L343.15 233.96 L343.20 234.64 L343.25 235.09 L343.30 235.36 L343.45 235.65 L343.65 235.68 L344.15 235.25 L344.20 234.87 L344.25 234.24 L344.30 233.31 L344.35 232.06 L344.40 230.56 L344.45 228.98 L344.50 227.55 L344.55 226.56 L344.60 226.20 L344.65 226.56 L344.70 227.55 L344.75 228.97 L344.80 230.56 L344.85 232.05 L344.90 233.30 L344.95 234.23 L345.00 234.86 L345.05 235.24 L345.15 235.57 L345.35 235.65 L345.80 235.36 L346.05 235.15 L346.20 235.17 L346.45 234.78 L346.55 234.39 L346.60 234.11 L346.65 233.76 L346.70 233.32 L346.75 232.82 L346.80 232.31 L346.85 231.90 L346.90 231.68 L347.00 232.09 L347.05 232.66 L347.10 233.33 L347.15 233.98 L347.20 234.52 L347.25 234.91 L347.30 235.16 L347.45 235.46 L347.50 235.48 L347.70 235.09 L347.75 234.77 L347.80 234.34 L347.85 233.86 L347.90 233.39 L347.95 233.02 L348.05 232.79 L348.15 233.16 L348.25 233.55 L348.30 233.60 L348.40 233.28 L348.45 232.91 L348.50 232.42 L348.55 231.82 L348.60 231.15 L348.65 230.45 L348.70 229.76 L348.75 229.11 L348.80 228.52 L348.85 228.00 L348.90 227.56 L348.95 227.20 L349.00 226.95 L349.05 226.83 L349.20 227.45 L349.25 228.02 L349.30 228.73 L349.35 229.55 L349.40 230.42 L349.45 231.29 L349.50 232.12 L349.55 232.87 L349.60 233.51 L349.65 234.04 L349.70 234.43 L349.75 234.70 L349.80 234.83 L349.95 234.32 L350.00 233.88 L350.05 233.36 L350.10 232.84 L350.15 232.38 L350.20 232.03 L350.30 231.80 L350.40 232.21 L350.45 232.61 L350.50 233.10 L350.55 233.60 L350.60 234.05 L350.65 234.39 L350.75 234.66 L350.90 234.32 L351.00 233.99 L351.15 233.65 L351.25 233.30 L351.30 232.98 L351.35 232.53 L351.40 231.95 L351.45 231.31 L351.50 230.71 L351.55 230.28 L351.60 230.13 L351.70 230.84 L351.75 231.60 L351.80 232.46 L351.85 233.30 L351.90 234.00 L351.95 234.50 L352.00 234.77 L352.10 234.40 L352.15 233.58 L352.20 232.14 L352.25 229.90 L352.30 226.75 L352.35 222.71 L352.40 218.07 L352.45 213.35 L352.50 209.27 L352.55 206.58 L352.60 205.80 L352.65 207.10 L352.70 210.18 L352.75 214.43 L352.80 219.09 L352.85 223.47 L352.90 227.14 L352.95 229.91 L353.00 231.82 L353.05 233.00 L353.10 233.65 L353.15 233.93 L353.20 233.98 L353.35 233.59 L353.50 233.35 L353.65 233.70 L353.75 234.12 L353.85 234.47 L353.90 234.52 L354.00 234.08 L354.05 233.37 L354.10 232.11 L354.15 230.05 L354.20 226.90 L354.25 222.41 L354.30 216.47 L354.35 209.21 L354.40 201.12 L354.45 193.07 L354.50 186.17 L354.55 181.53 L354.60 180.00 L354.65 181.88 L354.70 186.86 L354.75 194.08 L354.80 202.40 L354.85 210.67 L354.90 218.02 L354.95 223.94 L355.00 228.31 L355.05 231.27 L355.10 233.12 L355.15 234.16 L355.20 234.70 L355.30 235.03 L355.60 235.33 L355.95 235.51 L356.25 235.10 L356.30 234.59 L356.35 233.60 L356.40 231.83 L356.45 228.96 L356.50 224.69 L356.55 218.97 L356.60 212.11 L356.65 204.84 L356.70 198.30 L356.75 193.70 L356.80 192.00 L356.85 193.55 L356.90 197.97 L356.95 204.32 L357.00 211.37 L357.05 218.02 L357.10 223.54 L357.15 227.64 L357.20 230.43 L357.25 232.18 L357.30 233.25 L357.35 233.90 L357.40 234.33 L357.45 234.64 L357.55 235.01 L357.60 235.06 L357.70 234.75 L357.75 234.28 L357.80 233.48 L357.85 232.21 L357.90 230.25 L357.95 227.33 L358.00 223.20 L358.05 217.78 L358.10 211.30 L358.15 204.46 L358.20 198.29 L358.25 193.99 L358.30 192.50 L358.35 194.20 L358.40 198.74 L358.45 205.19 L358.50 212.36 L358.55 219.13 L358.60 224.77 L358.65 228.95 L358.70 231.73 L358.75 233.36 L358.80 234.14 L358.85 234.33 L358.95 233.63 L359.00 232.96 L359.05 232.19 L359.10 231.40 L359.15 230.70 L359.20 230.17 L359.25 229.86 L359.30 229.79 L359.40 230.18 L359.45 230.46 L359.55 230.85 L359.75 231.23 L359.85 231.64 L359.95 232.07 L360.05 232.39 L360.20 232.78 L360.30 233.18 L360.35 233.44 L360.40 233.71 L360.45 233.97 L360.55 234.38 L360.70 234.64 L360.90 234.90 L360.95 234.91 L361.10 234.37 L361.15 233.83 L361.20 232.93 L361.25 231.49 L361.30 229.18 L361.35 225.58 L361.40 220.20 L361.45 212.62 L361.50 202.61 L361.55 190.42 L361.60 176.87 L361.65 163.42 L361.70 151.92 L361.75 144.25 L361.80 141.80 L361.85 145.05 L361.90 153.46 L361.95 165.58 L362.00 179.49 L362.05 193.28 L362.10 205.49 L362.15 215.27 L362.20 222.40 L362.25 227.14 L362.30 229.98 L362.35 231.49 L362.40 232.17 L362.50 232.45 L362.60 232.40 L362.85 232.76 L362.95 233.22 L363.00 233.51 L363.05 233.82 L363.10 234.12 L363.15 234.37 L363.25 234.63 L363.35 234.38 L363.40 233.99 L363.45 233.42 L363.50 232.67 L363.55 231.78 L363.60 230.85 L363.65 230.00 L363.70 229.37 L363.75 229.09 L363.85 229.58 L363.90 230.13 L363.95 230.60 L364.00 230.78 L364.10 229.93 L364.15 229.03 L364.20 228.11 L364.25 227.43 L364.30 227.20 L364.35 227.52 L364.40 228.32 L364.45 229.45 L364.50 230.67 L364.55 231.77 L364.60 232.61 L364.65 233.13 L364.75 233.38 L364.85 233.06 L364.95 232.74 L365.25 232.31 L365.30 232.02 L365.35 231.69 L365.40 231.41 L365.45 231.26 L365.55 231.57 L365.60 232.00 L365.65 232.52 L365.70 233.01 L365.75 233.37 L365.80 233.49 L365.90 232.85 L365.95 232.12 L366.00 231.22 L366.05 230.30 L366.10 229.49 L366.15 228.93 L366.20 228.70 L366.30 229.20 L366.35 229.79 L366.40 230.48 L366.45 231.20 L366.50 231.88 L366.55 232.51 L366.60 233.06 L366.65 233.54 L366.70 233.95 L366.75 234.28 L366.80 234.54 L366.90 234.82 L366.95 234.83 L367.10 234.39 L367.20 233.98 L367.30 233.82 L367.45 234.15 L367.55 234.46 L367.70 234.68 L367.85 234.42 L367.95 233.84 L368.00 233.43 L368.05 232.95 L368.10 232.46 L368.15 232.01 L368.20 231.64 L368.25 231.37 L368.40 231.10 L368.60 231.50 L368.65 231.84 L368.70 232.30 L368.75 232.83 L368.80 233.38 L368.85 233.89 L368.90 234.31 L368.95 234.60 L369.05 234.76 L369.15 234.40 L369.20 234.07 L369.25 233.68 L369.30 233.31 L369.35 233.00 L369.45 232.78 L369.55 233.06 L369.65 233.52 L369.75 233.79 L369.90 233.35 L369.95 232.89 L370.00 232.30 L370.05 231.65 L370.10 231.07 L370.15 230.67 L370.20 230.55 L370.30 231.23 L370.35 231.89 L370.40 232.62 L370.45 233.33 L370.50 233.94 L370.55 234.41 L370.60 234.75 L370.70 235.12 L371.05 235.28 L371.65 235.28 L372.05 234.99 L372.10 234.65 L372.15 233.98 L372.20 232.79 L372.25 230.85 L372.30 227.97 L372.35 224.11 L372.40 219.48 L372.45 214.59 L372.50 210.19 L372.55 207.11 L372.60 206.00 L372.65 207.09 L372.70 210.14 L372.75 214.47 L372.80 219.23 L372.85 223.62 L372.90 227.09 L372.95 229.40 L373.00 230.61 L373.05 230.99 L373.15 230.70 L373.20 230.67 L373.25 230.94 L373.30 231.52 L373.35 232.30 L373.40 233.11 L373.45 233.83 L373.50 234.39 L373.55 234.78 L373.65 235.13 L373.75 235.19 L373.90 234.80 L373.95 234.33 L374.00 233.46 L374.05 231.98 L374.10 229.64 L374.15 226.20 L374.20 221.54 L374.25 215.78 L374.30 209.27 L374.35 202.71 L374.40 196.94 L374.45 192.83 L374.50 191.00 L374.55 191.68 L374.60 194.61 L374.65 199.20 L374.70 204.66 L374.75 210.26 L374.80 215.47 L374.85 219.97 L374.90 223.70 L374.95 226.67 L375.00 228.98 L375.05 230.75 L375.10 232.07 L375.15 233.04 L375.20 233.73 L375.25 234.22 L375.30 234.57 L375.40 234.95 L375.55 235.11 L375.75 234.82 L375.85 234.46 L375.95 233.99 L376.05 233.51 L376.15 233.09 L376.25 232.63 L376.30 232.29 L376.35 231.81 L376.40 231.13 L376.45 230.20 L376.50 229.01 L376.55 227.59 L376.60 226.06 L376.65 224.62 L376.70 223.52 L376.75 223.00 L376.85 224.18 L376.90 225.73 L376.95 227.62 L377.00 229.56 L377.05 231.29 L377.10 232.68 L377.15 233.69 L377.20 234.35 L377.25 234.74 L377.35 234.99 L377.50 234.65 L377.60 234.17 L377.70 233.81 L377.75 233.78 L377.85 234.04 L377.95 234.53 L378.05 234.91 L378.20 235.10 L378.35 234.73 L378.40 234.33 L378.45 233.66 L378.50 232.68 L378.55 231.36 L378.60 229.77 L378.65 228.08 L378.70 226.55 L378.75 225.45 L378.80 225.00 L378.85 225.26 L378.90 226.16 L378.95 227.44 L379.00 228.84 L379.05 230.09 L379.10 231.02 L379.15 231.56 L379.20 231.72 L379.30 231.13 L379.35 230.55 L379.40 229.91 L379.45 229.32 L379.50 228.92 L379.55 228.80 L379.65 229.61 L379.70 230.45 L379.75 231.41 L379.80 232.37 L379.85 233.21 L379.90 233.87 L379.95 234.35 L380.00 234.67 L380.10 235.00 L380.25 235.10 L380.45 234.75 L380.50 234.49 L380.55 234.12 L380.60 233.67 L380.65 233.15 L380.70 232.61 L380.75 232.11 L380.80 231.71 L380.85 231.41 L380.95 230.99 L381.00 230.62 L381.05 229.85 L381.10 228.32 L381.15 225.59 L381.20 221.10 L381.25 214.38 L381.30 205.15 L381.35 193.60 L381.40 180.52 L381.45 167.33 L381.50 155.91 L381.55 148.13 L381.60 145.40 L381.65 148.26 L381.70 156.21 L381.75 167.85 L381.80 181.31 L381.85 194.73 L381.90 206.68 L381.95 216.33 L382.00 223.47 L382.05 228.35 L382.10 231.42 L382.15 233.23 L382.20 234.21 L382.25 234.70 L382.35 235.03 L382.40 235.06 L382.65 234.68 L382.75 234.19 L382.80 233.85 L382.85 233.47 L382.90 233.07 L382.95 232.71 L383.00 232.41 L383.10 232.17 L383.20 232.42 L383.30 232.90 L383.40 233.19 L383.55 232.64 L383.60 232.18 L383.65 231.62 L383.70 231.00 L383.75 230.38 L383.80 229.81 L383.85 229.34 L383.90 228.99 L384.00 228.69 L384.15 229.01 L384.20 229.28 L384.25 229.64 L384.30 230.07 L384.35 230.55 L384.40 231.06 L384.45 231.55 L384.50 232.00 L384.55 232.42 L384.60 232.77 L384.65 233.07 L384.75 233.43 L384.80 233.44 L384.90 232.99 L384.95 232.48 L385.00 231.82 L385.05 231.08 L385.10 230.40 L385.15 229.90 L385.20 229.70 L385.30 230.21 L385.35 230.75 L385.40 231.29 L385.45 231.68 L385.50 231.83 L385.60 231.40 L385.65 230.90 L385.70 230.33 L385.75 229.76 L385.80 229.28 L385.85 228.96 L385.90 228.84 L386.00 229.23 L386.05 229.70 L386.10 230.30 L386.15 230.98 L386.20 231.66 L386.25 232.29 L386.30 232.81 L386.35 233.17 L386.40 233.34 L386.55 232.72 L386.60 232.26 L386.65 231.77 L386.70 231.31 L386.75 230.93 L386.80 230.65 L386.90 230.35 L386.95 230.34 L387.05 230.63 L387.10 230.94 L387.15 231.35 L387.20 231.83 L387.25 232.35 L387.30 232.86 L387.35 233.33 L387.40 233.73 L387.45 234.03 L387.55 234.32 L387.70 233.95 L387.75 233.63 L387.80 233.26 L387.85 232.88 L387.90 232.55 L388.00 232.31 L388.10 232.73 L388.15 233.11 L388.20 233.52 L388.25 233.87 L388.30 234.15 L388.40 234.41 L388.45 234.43 L388.65 234.31 L388.80 234.35 L389.00 233.93 L389.05 233.59 L389.10 233.15 L389.15 232.66 L389.20 232.16 L389.25 231.74 L389.30 231.45 L389.35 231.34 L389.45 231.67 L389.50 232.03 L389.55 232.42 L389.60 232.76 L389.65 232.97 L389.75 232.71 L389.80 232.22 L389.85 231.56 L389.90 230.89 L389.95 230.35 L390.00 230.11 L390.10 230.62 L390.15 231.22 L390.20 231.85 L390.25 232.35 L390.30 232.64 L390.35 232.69 L390.45 232.27 L390.50 231.98 L390.60 231.75 L390.70 232.22 L390.75 232.66 L390.80 233.13 L390.85 233.58 L390.90 233.96 L390.95 234.24 L391.05 234.42 L391.15 233.76 L391.20 232.85 L391.25 231.34 L391.30 229.09 L391.35 226.07 L391.40 222.42 L391.45 218.50 L391.50 214.87 L391.55 212.14 L391.60 210.80 L391.65 211.08 L391.70 212.85 L391.75 215.70 L391.80 219.07 L391.85 222.44 L391.90 225.45 L391.95 227.88 L392.00 229.73 L392.05 231.04 L392.10 231.94 L392.15 232.53 L392.20 232.93 L392.25 233.22 L392.35 233.65 L392.45 233.88 L392.60 233.50 L392.65 233.14 L392.70 232.67 L392.75 232.03 L392.80 231.14 L392.85 229.87 L392.90 228.05 L392.95 225.53 L393.00 222.22 L393.05 218.19 L393.10 213.70 L393.15 209.24 L393.20 205.42 L393.25 202.85 L393.30 202.00 L393.35 203.03 L393.40 205.76 L393.45 209.74 L393.50 214.35 L393.55 218.97 L393.60 223.11 L393.65 226.46 L393.70 228.94 L393.75 230.58 L393.80 231.50 L393.85 231.88 L393.90 231.89 L394.00 231.33 L394.05 231.00 L394.10 230.75 L394.20 230.58 L394.30 230.64 L394.45 230.16 L394.50 229.90 L394.55 229.80 L394.65 230.43 L394.70 231.16 L394.75 232.00 L394.80 232.80 L394.85 233.46 L394.90 233.94 L394.95 234.23 L395.10 234.50 L395.15 234.51 L395.45 234.11 L395.55 233.53 L395.60 233.11 L395.65 232.60 L395.70 232.04 L395.75 231.49 L395.80 231.01 L395.85 230.66 L395.90 230.49 L396.00 230.77 L396.05 231.15 L396.10 231.59 L396.15 231.99 L396.20 232.24 L396.25 232.26 L396.30 231.98 L396.35 231.37 L396.40 230.51 L396.45 229.52 L396.50 228.59 L396.55 227.93 L396.60 227.70 L396.65 227.96 L396.70 228.66 L396.75 229.66 L396.80 230.78 L396.85 231.83 L396.90 232.70 L396.95 233.35 L397.00 233.79 L397.05 234.06 L397.25 234.31 L397.50 234.03 L397.60 233.66 L397.70 233.18 L397.80 232.79 L397.90 232.70 L398.05 233.12 L398.15 233.55 L398.25 233.90 L398.40 234.15 L398.50 234.19 L398.75 233.81 L398.80 233.36 L398.85 232.51 L398.90 230.99 L398.95 228.43 L399.00 224.41 L399.05 218.57 L399.10 210.73 L399.15 201.06 L399.20 190.22 L399.25 179.36 L399.30 169.95 L399.35 163.46 L399.40 161.00 L399.45 162.98 L399.50 168.99 L399.55 177.95 L399.60 188.40 L399.65 198.89 L399.70 208.26 L399.75 215.85 L399.80 221.46 L399.85 225.27 L399.90 227.69 L399.95 229.15 L400.00 230.06 L400.05 230.70 L400.10 231.21 L400.15 231.65 L400.20 232.00 L400.25 232.27 L400.35 232.56 L400.50 232.93 L400.60 233.31 L400.70 233.64 L400.80 233.74 L400.95 233.31 L401.00 233.01 L401.05 232.62 L401.10 232.15 L401.15 231.59 L401.20 230.90 L401.25 230.07 L401.30 229.09 L401.35 228.03 L401.40 227.00 L401.45 226.15 L401.50 225.62 L401.55 225.50 L401.60 225.77 L401.65 226.35 L401.70 227.09 L401.75 227.86 L401.80 228.57 L401.85 229.18 L401.90 229.71 L401.95 230.19 L402.00 230.66 L402.05 231.12 L402.10 231.55 L402.15 231.90 L402.20 232.16 L402.30 232.32 L402.50 232.14 L402.70 232.51 L402.80 232.59 L402.90 232.32 L402.95 232.05 L403.00 231.74 L403.05 231.41 L403.10 231.12 L403.20 230.75 L403.25 230.70 L403.40 231.00 L403.50 231.47 L403.60 231.79 L403.65 231.80 L403.75 231.52 L403.85 231.10 L403.95 230.66 L404.00 230.37 L404.05 230.01 L404.10 229.60 L404.15 229.20 L404.20 228.88 L404.25 228.75 L404.35 229.11 L404.40 229.51 L404.45 229.93 L404.50 230.23 L404.55 230.35 L404.65 230.03 L404.70 229.75 L404.80 229.53 L404.90 230.11 L404.95 230.62 L405.00 231.15 L405.05 231.63 L405.10 232.00 L405.20 232.31 L405.45 232.10 L405.65 232.44 L405.70 232.48 L405.85 232.21 L405.95 231.82 L406.05 231.51 L406.10 231.46 L406.30 231.77 L406.40 231.87 L406.60 231.55 L406.65 231.50 L406.80 231.76 L406.90 232.15 L407.00 232.49 L407.15 232.74 L407.25 232.78 L407.60 232.46 L407.70 232.11 L407.80 231.57 L407.85 231.22 L407.90 230.82 L407.95 230.35 L408.00 229.76 L408.05 228.95 L408.10 227.78 L408.15 226.06 L408.20 223.64 L408.25 220.49 L408.30 216.75 L408.35 212.86 L408.40 209.43 L408.45 207.13 L408.50 206.50 L408.55 207.70 L408.60 210.51 L408.65 214.35 L408.70 218.51 L408.75 222.34 L408.80 225.40 L408.85 227.52 L408.90 228.77 L408.95 229.33 L409.00 229.43 L409.10 229.11 L409.20 228.90 L409.40 229.17 L409.45 229.19 L409.65 228.88 L409.75 228.27 L409.80 227.55 L409.85 226.33 L409.90 224.47 L409.95 221.92 L410.00 218.83 L410.05 215.54 L410.10 212.60 L410.15 210.59 L410.20 210.00 L410.25 210.99 L410.30 213.38 L410.35 216.70 L410.40 220.36 L410.45 223.80 L410.50 226.65 L410.55 228.76 L410.60 230.18 L410.65 231.03 L410.70 231.49 L410.80 231.74 L410.95 231.44 L411.05 231.00 L411.10 230.71 L411.15 230.38 L411.20 230.04 L411.25 229.73 L411.35 229.43 L411.45 229.76 L411.50 230.11 L411.55 230.51 L411.60 230.87 L411.65 231.14 L411.75 231.31 L411.85 230.97 L411.90 230.65 L411.95 230.27 L412.00 229.88 L412.05 229.51 L412.10 229.18 L412.15 228.90 L412.20 228.65 L412.30 228.21 L412.40 227.91 L412.50 227.84 L412.75 228.12 L412.90 228.53 L413.00 229.04 L413.05 229.36 L413.10 229.68 L413.15 230.00 L413.20 230.29 L413.30 230.73 L413.45 231.04 L413.60 231.09 L414.25 230.87 L414.60 230.62 L414.70 230.34 L414.80 229.78 L414.85 229.36 L414.90 228.82 L414.95 228.19 L415.00 227.49 L415.05 226.78 L415.10 226.12 L415.15 225.59 L415.20 225.25 L415.25 225.13 L415.35 225.63 L415.40 226.17 L415.45 226.82 L415.50 227.51 L415.55 228.15 L415.60 228.70 L415.65 229.11 L415.75 229.42 L415.85 229.10 L415.90 228.79 L415.95 228.42 L416.00 228.05 L416.05 227.69 L416.10 227.34 L416.15 226.92 L416.20 226.31 L416.25 225.35 L416.30 223.81 L416.35 221.49 L416.40 218.15 L416.45 213.62 L416.50 207.80 L416.55 200.80 L416.60 193.06 L416.65 185.36 L416.70 178.75 L416.75 174.34 L416.80 173.00 L416.85 175.05 L416.90 180.18 L416.95 187.52 L417.00 195.91 L417.05 204.18 L417.10 211.41 L417.15 217.09 L417.20 221.10 L417.25 223.60 L417.30 224.90 L417.35 225.39 L417.40 225.40 L417.50 224.98 L417.55 224.87 L417.65 225.17 L417.70 225.58 L417.75 226.11 L417.80 226.68 L417.85 227.26 L417.90 227.79 L417.95 228.25 L418.00 228.61 L418.05 228.90 L418.15 229.24 L418.40 229.42 L419.05 229.32 L419.45 229.00 L419.55 228.61 L419.60 228.35 L419.65 228.08 L419.75 227.65 L419.80 227.57 L419.95 227.89 L420.05 228.31 L420.15 228.58 L420.25 228.65 L420.55 228.36 L420.80 228.23 L421.25 228.49 L421.30 228.50 L421.55 228.17 L421.65 227.90 L421.75 227.63 L421.90 227.36 L421.95 227.33 L422.25 227.59 L422.70 227.86 L422.90 228.12 L423.05 228.38 L423.25 228.66 L423.70 228.84 L423.80 228.84 L424.30 229.11 L424.50 229.37 L424.70 229.55 L424.90 229.18 L424.95 228.81 L425.00 228.23 L425.05 227.37 L425.10 226.20 L425.15 224.68 L425.20 222.84 L425.25 220.77 L425.30 218.62 L425.35 216.60 L425.40 214.94 L425.45 213.86 L425.50 213.50 L425.55 213.92 L425.60 215.06 L425.65 216.77 L425.70 218.85 L425.75 221.05 L425.80 223.18 L425.85 225.08 L425.90 226.65 L425.95 227.88 L426.00 228.79 L426.05 229.42 L426.10 229.84 L426.15 230.12 L426.25 230.40 L426.85 230.63 L427.30 230.33 L427.45 229.92 L427.55 229.51 L427.65 229.02 L427.70 228.75 L427.75 228.48 L427.80 228.22 L427.85 227.96 L427.90 227.68 L427.95 227.38 L428.00 227.02 L428.05 226.58 L428.10 226.03 L428.15 225.39 L428.20 224.70 L428.25 224.03 L428.30 223.49 L428.35 223.20 L428.45 223.60 L428.50 224.27 L428.55 225.16 L428.60 226.15 L428.65 227.11 L428.70 227.95 L428.75 228.63 L428.80 229.14 L428.85 229.49 L428.95 229.87 L429.20 230.14 L429.50 230.39 L430.10 230.56 L430.70 230.74 L431.15 230.87 L431.70 230.61 L431.95 230.33 L432.30 230.07 L432.35 230.07 L432.75 230.37 L433.00 230.65 L433.30 230.80 L433.80 230.53 L434.00 230.26 L434.10 229.80 L434.15 229.33 L434.20 228.58 L434.25 227.50 L434.30 226.03 L434.35 224.22 L434.40 222.19 L434.45 220.16 L434.50 218.40 L434.55 217.21 L434.60 216.80 L434.65 217.24 L434.70 218.46 L434.75 220.24 L434.80 222.29 L434.85 224.32 L434.90 226.12 L434.95 227.55 L435.00 228.59 L435.05 229.26 L435.10 229.64 L435.15 229.78 L435.25 229.52 L435.30 229.09 L435.35 228.40 L435.40 227.40 L435.45 226.09 L435.50 224.53 L435.55 222.91 L435.60 221.47 L435.65 220.50 L435.70 220.20 L435.75 220.66 L435.80 221.78 L435.85 223.36 L435.90 225.11 L435.95 226.76 L436.00 228.16 L436.05 229.22 L436.10 229.96 L436.15 230.43 L436.20 230.72 L436.30 230.99 L436.75 231.15 L437.35 231.06 L437.80 230.78 L438.05 230.48 L438.20 230.21 L438.35 229.88 L438.50 229.58 L438.60 229.50 L438.75 229.85 L438.80 230.10 L438.85 230.40 L438.90 230.70 L438.95 230.97 L439.05 231.24 L439.25 230.94 L439.45 230.69 L439.70 230.42 L439.85 230.14 L440.00 229.84 L440.15 229.56 L440.35 229.25 L440.55 228.98 L440.70 228.72 L440.85 228.39 L441.00 228.07 L441.20 227.89 L441.40 228.22 L441.50 228.56 L441.60 228.94 L441.70 229.34 L441.80 229.71 L441.90 230.02 L442.00 230.27 L442.15 230.54 L442.40 230.81 L442.85 230.96 L443.35 230.70 L443.55 230.44 L443.80 230.16 L444.05 229.87 L444.25 229.56 L444.45 229.30 L444.80 228.94 L444.90 228.37 L444.95 227.85 L445.00 227.16 L445.05 226.27 L445.10 225.21 L445.15 224.04 L445.20 222.85 L445.25 221.73 L445.30 220.82 L445.35 220.22 L445.40 220.00 L445.50 220.78 L445.55 221.68 L445.60 222.79 L445.65 224.00 L445.70 225.19 L445.75 226.30 L445.80 227.25 L445.85 228.04 L445.90 228.66 L445.95 229.14 L446.00 229.51 L446.05 229.79 L446.15 230.19 L446.25 230.45 L446.45 230.76 L446.90 230.88 L447.50 230.87 L448.15 230.85 L448.75 230.82 L449.35 230.57 L449.60 230.29 L449.85 230.04 L450.05 229.99 L450.40 230.09 L450.70 229.79 L450.80 229.49 L450.90 229.07 L450.95 228.82 L451.00 228.54 L451.05 228.24 L451.10 227.92 L451.15 227.59 L451.20 227.25 L451.25 226.91 L451.30 226.58 L451.35 226.26 L451.40 225.96 L451.45 225.69 L451.55 225.27 L451.70 225.00 L451.90 225.40 L452.00 225.88 L452.05 226.16 L452.10 226.47 L452.15 226.79 L452.20 227.11 L452.25 227.43 L452.30 227.73 L452.35 228.00 L452.45 228.42 L452.55 228.59 L452.70 228.21 L452.75 227.95 L452.80 227.66 L452.85 227.38 L452.95 227.02 L453.00 227.00 L453.10 227.33 L453.15 227.65 L453.20 228.04 L453.25 228.45 L453.30 228.85 L453.35 229.21 L453.40 229.52 L453.50 229.95 L453.65 230.21 L453.80 230.26 L454.40 230.19 L455.00 230.11 L455.65 230.02 L456.25 229.94 L456.70 229.56 L456.75 229.31 L456.80 228.89 L456.85 228.25 L456.90 227.32 L456.95 226.02 L457.00 224.31 L457.05 222.17 L457.10 219.67 L457.15 216.92 L457.20 214.13 L457.25 211.56 L457.30 209.46 L457.35 208.08 L457.40 207.60 L457.45 208.07 L457.50 209.43 L457.55 211.52 L457.60 214.08 L457.65 216.85 L457.70 219.59 L457.75 222.07 L457.80 224.20 L457.85 225.90 L457.90 227.18 L457.95 228.10 L458.00 228.72 L458.05 229.15 L458.10 229.42 L458.20 229.67 L458.35 229.76 L458.75 229.49 L458.95 229.36 L459.25 229.67 L459.40 229.94 L459.65 230.22 L459.95 230.31 L460.45 230.03 L460.55 229.74 L460.65 229.27 L460.70 228.96 L460.75 228.63 L460.80 228.30 L460.85 228.00 L460.95 227.62 L461.00 227.60 L461.10 227.92 L461.15 228.23 L461.20 228.61 L461.25 229.01 L461.30 229.40 L461.35 229.77 L461.40 230.08 L461.45 230.34 L461.55 230.70 L461.70 230.96 L461.90 231.04 L462.35 230.74 L462.60 230.44 L462.80 230.33 L463.15 230.46 L463.40 230.18 L463.55 230.00 L463.75 230.28 L463.85 230.57 L463.95 230.82 L464.10 231.08 L464.35 231.39 L464.65 231.62 L465.05 231.35 L465.25 231.27 L465.55 231.53 L465.70 231.80 L465.85 232.09 L466.00 232.35 L466.25 232.63 L466.40 232.67 L466.75 232.35 L466.95 232.07 L467.15 231.92 L467.45 232.24 L467.60 232.51 L467.80 232.77 L467.90 232.81 L468.35 232.62 L468.70 232.88 L469.20 233.09 L469.80 232.87 L470.00 232.57 L470.15 232.18 L470.25 231.81 L470.35 231.35 L470.40 231.08 L470.45 230.79 L470.50 230.47 L470.55 230.13 L470.60 229.77 L470.65 229.39 L470.70 229.00 L470.75 228.60 L470.80 228.19 L470.85 227.78 L470.90 227.38 L470.95 226.99 L471.00 226.61 L471.05 226.27 L471.10 225.95 L471.15 225.67 L471.25 225.25 L471.40 225.00 L471.60 225.44 L471.70 225.95 L471.75 226.27 L471.80 226.61 L471.85 226.99 L471.90 227.38 L471.95 227.78 L472.00 228.19 L472.05 228.60 L472.10 229.00 L472.15 229.39 L472.20 229.77 L472.25 230.13 L472.30 230.47 L472.35 230.79 L472.40 231.08 L472.45 231.35 L472.55 231.81 L472.65 232.18 L472.75 232.46 L472.90 232.74 L473.20 233.01 L473.80 233.10 L474.40 233.10 L475.05 233.10 L475.65 233.10 L475.80 233.10 L476.45 233.10 L477.05 233.10 L477.65 233.10 L478.30 233.08 L478.90 232.90 L479.25 232.60 L479.50 232.32 L479.80 232.06 L480.00 232.00 L480.45 232.27 L480.70 232.54 L481.00 232.82 L481.60 233.05 L482.15 233.08 L482.80 233.07 L483.40 233.07 L484.00 233.06 L484.65 233.05 L485.25 233.05 L485.85 232.99 L486.35 232.70 L486.55 232.40 L486.70 232.07 L486.80 231.79 L486.90 231.45 L487.00 231.08 L487.10 230.66 L487.20 230.21 L487.30 229.74 L487.40 229.27 L487.50 228.83 L487.60 228.42 L487.70 228.08 L487.80 227.82 L488.00 227.60 L488.25 227.93 L488.35 228.23 L488.45 228.61 L488.55 229.03 L488.65 229.49 L488.75 229.96 L488.85 230.42 L488.95 230.85 L489.05 231.25 L489.15 231.60 L489.25 231.91 L489.35 232.16 L489.50 232.46 L489.70 232.72 L490.30 232.97 L490.80 232.99 L491.40 232.99 L492.00 232.98 L492.65 232.97 L493.25 232.95 L493.85 232.75 L494.15 232.46 L494.35 232.21 L494.55 231.94 L494.80 231.67 L495.00 231.60 L495.40 231.87 L495.60 232.13 L495.80 232.39 L496.05 232.65 L496.65 232.90 L497.20 232.93 L497.80 232.92 L498.40 232.92 L499.05 232.91 L499.65 232.90 L500.25 232.90 L500.85 232.89 L501.50 232.88 L502.10 232.88 L502.70 232.87 L503.35 232.87 L503.95 232.86 L504.55 232.85 L505.20 232.77 L505.70 232.48 L505.95 232.18 L506.10 231.92 L506.25 231.62 L506.40 231.27 L506.50 231.02 L506.60 230.76 L506.70 230.50 L506.80 230.25 L506.95 229.91 L507.10 229.64 L507.40 229.40 L507.75 229.71 L507.90 230.00 L508.05 230.36 L508.15 230.61 L508.25 230.87 L508.35 231.12 L508.50 231.48 L508.65 231.80 L508.80 232.07 L509.00 232.35 L509.30 232.60 L509.90 232.78 L510.30 232.79 L510.90 232.78 L511.50 232.77 L512.15 232.76 L512.75 232.74 L513.35 232.73 L513.95 232.72 L514.60 232.71 L515.20 232.70 L515.80 232.68 L516.40 232.67 L517.05 232.66 L517.65 232.65 L518.30 232.63 L518.90 232.62 L519.50 232.61 L520.10 232.60 L520.75 232.58 L521.35 232.57 L522.00 232.56 L522.60 232.55 L523.20 232.54 L523.80 232.52 L524.45 232.51 L525.05 232.50 L525.65 232.49 L526.25 232.47 L526.90 232.46 L527.50 232.41 L528.15 232.18 L528.50 231.91 L528.75 231.63 L528.95 231.36 L529.15 231.07 L529.35 230.80 L529.60 230.51 L530.05 230.30 L530.55 230.60 L530.80 230.90 L531.00 231.16 L531.25 231.47 L531.55 231.76 L532.05 232.02 L532.55 232.09 L533.15 232.03 L533.75 231.90 L534.40 231.63 L534.80 231.38 L535.15 231.11 L535.50 230.82 L535.85 230.57 L536.45 230.31 L536.60 230.30 L537.20 230.45 L537.65 230.70 L538.10 230.96 L538.45 231.13"/>
</g>
<g stroke="#9a9a9a" stroke-width="0.7" fill="none">
<path d="M232.0 201.0 L237.0 221.0"/>
<path d="M286.6 106.0 L282.3 113.2"/>
<path d="M300.5 201.8 L302.5 210.4"/>
<path d="M310.8 176.2 L309.4 202.5"/>
<path d="M325.6 192.0 L328.5 206.8"/>
<path d="M349.0 192.0 L351.7 202.0"/>
<path d="M387.6 186.0 L390.2 207.0"/>
<path d="M406.6 183.0 L408.7 202.5"/>
<path d="M412.5 200.5 L410.5 207.5"/>
</g>
<rect x="354.9" y="210.8" width="6.2" height="7.4" fill="#fff"/>
<text class="n" x="54.2" y="157.1">1</text>
<text class="n" x="61.2" y="191.9">2</text>
<text class="n" x="70.2" y="191.9">3</text>
<text class="n" x="128.0" y="225.5">4</text>
<text class="n" x="141.0" y="223.5">5</text>
<text class="n" x="176.2" y="8.6">6</text>
<text class="n" x="180.3" y="226.0">7</text>
<text class="n" x="186.9" y="225.0">8</text>
<text class="n" x="194.7" y="169.5">9</text>
<text class="n" x="201.0" y="203.5">10</text>
<text class="n" x="222.7" y="193.5">11</text>
<text class="n" x="233.0" y="198.5">12</text>
<text class="n" x="240.5" y="130.3">13</text>
<text class="n" x="247.0" y="184.9">14</text>
<text class="n" x="253.8" y="174.5">15</text>
<text class="n" x="277.5" y="59.8">16</text>
<text class="n" x="283.4" y="87.7">17</text>
<text class="n" x="287.6" y="101.8">18</text>
<text class="n" x="284.3" y="192.7">19</text>
<text class="n" x="288.5" y="165.9">20</text>
<text class="n" x="295.0" y="215.2">21</text>
<text class="n" x="300.1" y="199.2">22</text>
<text class="n" x="306.0" y="156.5">23</text>
<text class="n" x="311.1" y="172.0">24</text>
<text class="n" x="311.0" y="208.3">25</text>
<text class="n" x="316.3" y="156.1">26</text>
<text class="n" x="325.8" y="188.3">27</text>
<text class="n" x="331.0" y="155.7">28</text>
<text class="n" x="336.0" y="190.9">29</text>
<text class="n" x="340.2" y="150.3">30</text>
<text class="n" x="348.4" y="189.0">31</text>
<text class="n" x="355.0" y="175.5">32</text>
<text class="n" x="358.3" y="191.0">33</text>
<text class="n" x="357.8" y="216.8">34</text>
<text class="n" x="362.0" y="136.9">35</text>
<text class="n" x="369.7" y="202.0">36</text>
<text class="n" x="374.6" y="186.1">37</text>
<text class="n" x="382.4" y="140.9">38</text>
<text class="n" x="387.6" y="182.9">39</text>
<text class="n" x="393.6" y="198.0">40</text>
<text class="n" x="399.4" y="156.9">41</text>
<text class="n" x="406.6" y="180.1">42</text>
<text class="n" x="412.0" y="198.3">43</text>
<text class="n" x="416.6" y="167.8">44</text>
<text class="c" style="font-size:9.3px" transform="translate(64.4 179.6) rotate(-90)" textLength="33.5" lengthAdjust="spacingAndGlyphs">pentane</text>
<text class="c" transform="translate(171.4 113.7) rotate(-90)" textLength="98.6" lengthAdjust="spacingAndGlyphs">2,4-dimethyl-1-heptene</text>
<text class="c" transform="translate(197.3 146.0) rotate(-90)" textLength="108.2" lengthAdjust="spacingAndGlyphs">2,4,6-trimethyl-1-heptene</text>
<text class="c" transform="translate(242.8 119.5) rotate(-90)" textLength="105.2" lengthAdjust="spacingAndGlyphs">2,4,6-trimethyl-1-nonene</text>
<text class="c" transform="translate(274.3 200.0) rotate(-90)" textLength="133.3" lengthAdjust="spacingAndGlyphs">2,4,6,8-tetramethyl-1-undecene</text>
<text transform="translate(13.6 157.3) rotate(-90)" font-size="9.3px" fill="#222" stroke="#222" stroke-width="0.15" textLength="80.5" lengthAdjust="spacingAndGlyphs">Relative Abundance</text>
<text x="256.6" y="259" font-size="9.1px" fill="#222" textLength="45.8" lengthAdjust="spacingAndGlyphs" stroke="#222" stroke-width="0.35">Time (min.)</text>
<text class="t" x="63.9" y="249.7" textLength="11.0" lengthAdjust="spacingAndGlyphs">2.00</text>
<text class="t" x="104.1" y="249.7" textLength="11.0" lengthAdjust="spacingAndGlyphs">4.00</text>
<text class="t" x="144.3" y="249.7" textLength="11.0" lengthAdjust="spacingAndGlyphs">6.00</text>
<text class="t" x="184.5" y="249.7" textLength="11.0" lengthAdjust="spacingAndGlyphs">8.00</text>
<text class="t" x="223.8" y="249.7" textLength="14.1" lengthAdjust="spacingAndGlyphs">10.00</text>
<text class="t" x="264.0" y="249.7" textLength="14.1" lengthAdjust="spacingAndGlyphs">12.00</text>
<text class="t" x="304.3" y="249.7" textLength="14.1" lengthAdjust="spacingAndGlyphs">14.00</text>
<text class="t" x="344.5" y="249.7" textLength="14.1" lengthAdjust="spacingAndGlyphs">16.00</text>
<text class="t" x="384.7" y="249.7" textLength="14.1" lengthAdjust="spacingAndGlyphs">18.00</text>
<text class="t" x="424.9" y="249.7" textLength="14.1" lengthAdjust="spacingAndGlyphs">20.00</text>
<text class="t" x="465.1" y="249.7" textLength="14.1" lengthAdjust="spacingAndGlyphs">22.00</text>
<text class="t" x="505.3" y="249.7" textLength="14.1" lengthAdjust="spacingAndGlyphs">24.00</text>
<text class="t" x="545.5" y="249.7" textLength="14.1" lengthAdjust="spacingAndGlyphs">26.00</text>
<text class="t" x="13.5" y="18.9" style="font-size:5.8px">100</text>
<text class="t" x="13.3" y="240.4" style="font-size:5.8px">0</text>
</svg>
</body></html>
